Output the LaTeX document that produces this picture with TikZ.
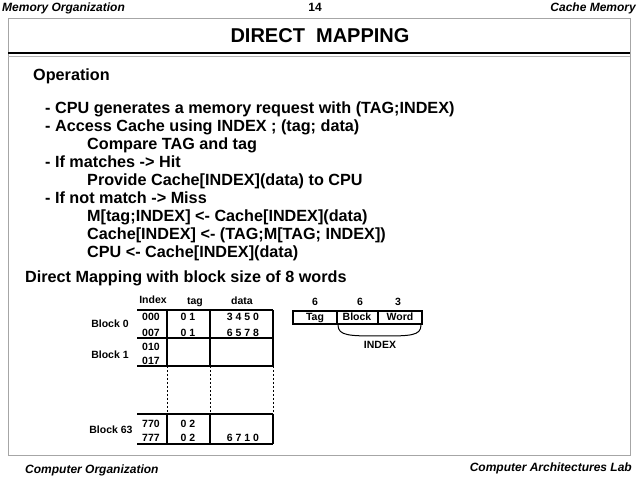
\documentclass[tikz,border=0pt]{standalone}
\usepackage{fontspec}
\setmainfont{Liberation Sans}
\begin{document}
\begin{tikzpicture}[x=1pt,y=-1pt,
  hdr/.style={font=\fontsize{12}{14}\selectfont\bfseries\itshape},
  body/.style={anchor=base west,inner sep=0,font=\fontsize{16.2}{18}\selectfont\bfseries},
  tb/.style={inner sep=0,anchor=base,font=\fontsize{10.5}{12}\selectfont\bfseries},
  ln/.style={line width=1.3pt}]
\useasboundingbox (0,0) rectangle (638,478);
\draw[gray!70,line width=0.8pt] (8,18) rectangle (630,455);
\draw[line width=2pt] (8,53) -- (630,53);
\draw[gray!60,line width=1pt] (8,56.5) -- (630,56.5);
\node[hdr,anchor=base west,inner sep=0] (h1) at (2,12) {Memory Organization};
\node[inner sep=0,anchor=base,font=\fontsize{12}{14}\selectfont\bfseries] (h2) at (315,12) {14};
\node[hdr,anchor=base east,inner sep=0] (h3) at (636,12) {Cache Memory};
\node[inner sep=0,anchor=base,font=\fontsize{20}{24}\selectfont\bfseries] (title) at (320,43) {DIRECT\ \ MAPPING};
\node[hdr,anchor=base west,inner sep=0] (f1) at (25,474) {Computer Organization};
\node[hdr,anchor=base east,inner sep=0] (f2) at (632,472) {Computer Architectures Lab};
\node[body] (op) at (33,81) {Operation};
\node[body] (l1) at (45,114) {- CPU generates a memory request with (TAG;INDEX)};
\node[body] (l2) at (45,132) {- Access Cache using INDEX ; (tag; data)};
\node[body] (l3) at (87,150) {Compare TAG and tag};
\node[body] (l4) at (45,168) {- If matches -> Hit};
\node[body] (l5) at (87,186) {Provide Cache[INDEX](data) to CPU};
\node[body] (l6) at (45,204) {- If not match -> Miss};
\node[body] (l7) at (87,222) {M[tag;INDEX] <- Cache[INDEX](data)};
\node[body] (l8) at (87,240) {Cache[INDEX] <- (TAG;M[TAG; INDEX])};
\node[body] (l9) at (87,258) {CPU <- Cache[INDEX](data)};
\node[body] (dm) at (25,283) {Direct Mapping with block size of 8 words};
% table
\draw[ln] (137,310) -- (273,310) (137,338) -- (273,338) (137,366) -- (273,366)
  (137,414) -- (273,414) (137,444) -- (273,444);
\foreach \x in {167,210,273}{
  \draw[ln] (\x,310) -- (\x,366) (\x,414) -- (\x,444);
  \draw[ln,dash pattern=on 2pt off 2pt,line width=1pt] (\x,366) -- (\x,414);}
\node[tb] (hi) at (153,304) {Index};
\node[tb] (ht) at (195,305) {tag};
\node[tb] (hd) at (242,305) {data};
\node[tb,anchor=base west] (r1) at (142,321) {000};
\node[tb,anchor=base west] (r2) at (142,337) {007};
\node[tb,anchor=base west] (r3) at (142,351) {010};
\node[tb,anchor=base west] (r4) at (142,365) {017};
\node[tb,anchor=base west] (r5) at (142,428) {770};
\node[tb,anchor=base west] (r6) at (142,442) {777};
\node[tb] (t1) at (188,321) {0 1};
\node[tb] (t2) at (188,337) {0 1};
\node[tb] (t5) at (188,428) {0 2};
\node[tb] (t6) at (188,442) {0 2};
\node[tb] (d1) at (243,321) {3 4 5 0};
\node[tb] (d2) at (243,337) {6 5 7 8};
\node[tb] (d6) at (243,442) {6 7 1 0};
\node[tb] (b0) at (110,328) {Block 0};
\node[tb] (b1) at (110,359) {Block 1};
\node[tb] (b63) at (111,434) {Block 63};
% address format
\draw[ln] (293,311) rectangle (422,324) (337,311) -- (337,324) (378,311) -- (378,324);
\node[tb] (ftag) at (315,321) {Tag};
\node[tb] (fblk) at (357,321) {Block};
\node[tb] (fwd) at (400,321) {Word};
\node[tb] (n1) at (315,306) {6};
\node[tb] (n2) at (360,306) {6};
\node[tb] (n3) at (398,306) {3};
\draw[line width=1pt] (338,325) .. controls (338,336) and (350,336) .. (380,336)
  .. controls (410,336) and (421,336) .. (421,325);
\node[tb] (idx) at (380,349) {INDEX};
\end{tikzpicture}
\end{document}
